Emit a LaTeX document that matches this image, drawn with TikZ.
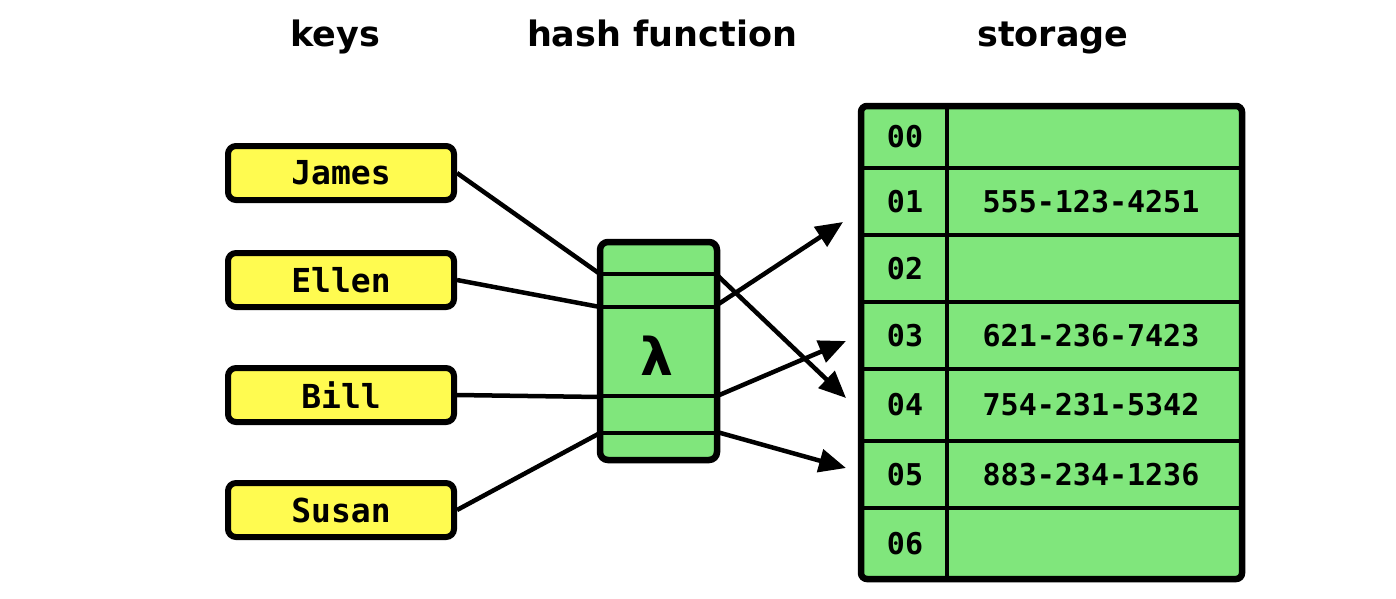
\documentclass[tikz,border=0pt]{standalone}
\usepackage{fontspec}
\setmainfont{DejaVu Sans}
\setmonofont{DejaVu Sans Mono}
\usetikzlibrary{arrows.meta}
\definecolor{cellgreen}{RGB}{128,230,124}
\definecolor{keyyellow}{RGB}{255,251,80}
\begin{document}
\begin{tikzpicture}[x=1pt,y=-1pt,
  title/.style={font=\fontsize{35}{40}\selectfont\bfseries, anchor=base, inner sep=0pt},
  keybox/.style={draw, line width=6pt, fill=keyyellow, rounded corners=8pt,
    minimum width=226pt, minimum height=54pt, inner sep=0pt,
    font=\ttfamily\bfseries\fontsize{33}{36}\selectfont},
  frame/.style={draw, line width=6.5pt, fill=cellgreen, rounded corners=8pt},
  divider/.style={line width=4.5pt},
  link/.style={line width=4.5pt},
  arrowlink/.style={line width=4.5pt, -{Triangle[length=27pt,width=23pt]}},
  cell/.style={font=\ttfamily\bfseries\fontsize{30}{32}\selectfont, inner sep=0pt},
]
\useasboundingbox (0,0) rectangle (1396,598);
\fill[white] (0,0) rectangle (1396,598);

% titles
\node[title] (tkeys) at (335,46) {keys};
\node[title] (thash) at (662,46) {hash function};
\node[title] (tstore) at (1053,46) {storage};

% keys
\node[keybox] (james) at (341,173) {James};
\node[keybox] (ellen) at (341,280) {Ellen};
\node[keybox] (bill)  at (341,395) {Bill};
\node[keybox] (susan) at (341,510) {Susan};

% hash function box
\node[frame, minimum width=117pt, minimum height=218pt, inner sep=0pt] (hash) at (658.5,351) {};
\draw[divider] (600,274) -- (717,274);
\draw[divider] (600,307) -- (717,307);
\draw[divider] (600,396) -- (717,396);
\draw[divider] (600,433) -- (717,433);
\node[font=\bfseries\fontsize{52}{56}\selectfont, inner sep=0pt] (lam) at (657,356) {λ};

\coordinate (hL1) at (600,274);
\coordinate (hL2) at (600,307);
\coordinate (hL3) at (600,397);
\coordinate (hL4) at (600,433);
\coordinate (hR1) at (717,275);
\coordinate (hR2) at (717,305);
\coordinate (hR3) at (717,396);
\coordinate (hR4) at (717,432);

\coordinate (t01) at (843,222);
\coordinate (t03) at (846,341);
\coordinate (t04) at (846,398);
\coordinate (t05) at (846,468);

% connectors
\draw[link] (james.east) -- (hL1);
\draw[link] (ellen.east) -- (hL2);
\draw[link] (bill.east) -- (hL3);
\draw[link] (susan.east) -- (hL4);

\draw[arrowlink] (hR2) -- (t01);
\draw[arrowlink] (hR1) -- (t04);
\draw[arrowlink] (hR3) -- (t03);
\draw[arrowlink] (hR4) -- (t05);

% storage table
\draw[line width=6.5pt, fill=cellgreen, rounded corners=6pt] (861,106) rectangle (1242,579);
\draw[divider] (947,106) -- (947,579);
\foreach \yy in {168,235,302,369,441,508}
  \draw[divider] (861,\yy) -- (1242,\yy);

\node[cell] (i00) at (905,137) {00};
\node[cell] (i01) at (905,201.5) {01};
\node[cell] (i02) at (905,268.5) {02};
\node[cell] (i03) at (905,335.5) {03};
\node[cell] (i04) at (905,405) {04};
\node[cell] (i05) at (905,474.5) {05};
\node[cell] (i06) at (905,543.5) {06};

\node[cell] (v01) at (1091,201.5) {555-123-4251};
\node[cell] (v03) at (1091,335.5) {621-236-7423};
\node[cell] (v04) at (1091,405) {754-231-5342};
\node[cell] (v05) at (1091,474.5) {883-234-1236};
\end{tikzpicture}
\end{document}
